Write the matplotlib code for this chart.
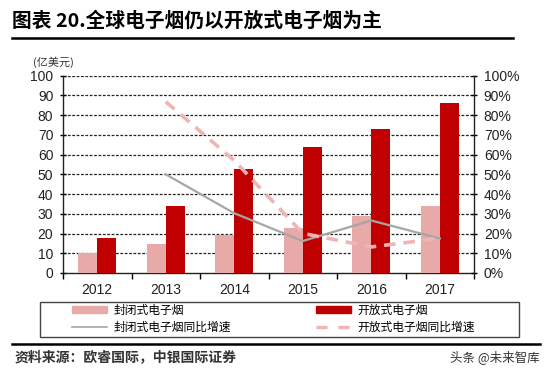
import matplotlib
matplotlib.use("Agg")
import matplotlib.pyplot as plt
import numpy as np
from matplotlib.patches import Rectangle
from matplotlib.lines import Line2D
from matplotlib.ticker import PercentFormatter

plt.rcParams['font.family'] = ['Liberation Sans', 'Noto Sans CJK SC', 'DejaVu Sans']

years = ['2012', '2013', '2014', '2015', '2016', '2017']
closed_sales = [10.2, 14.6, 19.5, 22.6, 28.9, 34.2]
open_sales = [17.8, 34.2, 52.8, 64.0, 73.0, 86.3]
closed_growth_years = ['2013', '2014', '2015', '2016', '2017']
closed_growth = [0.50, 0.303, 0.162, 0.266, 0.175]
open_growth_years = ['2013', '2014', '2015', '2016', '2017']
open_growth = [0.868, 0.57, 0.201, 0.132, 0.176]

label_closed = '封闭式电子烟'
label_open = '开放式电子烟'
label_closed_g = '封闭式电子烟同比增速'
label_open_g = '开放式电子烟同比增速'

C_OPEN = '#C00000'
C_CLOSED = '#E8A9A9'
C_GRAY = '#A6A6A6'
C_PINKLINE = '#F2B3B3'

fig = plt.figure(figsize=(5.54, 3.8), dpi=100)
ax = fig.add_axes([0.1137, 0.2816, 0.742, 0.5192])

x = np.arange(len(years))
w = 0.28
ax.bar(x - w, closed_sales, width=w, align='edge', color=C_CLOSED, zorder=3)
ax.bar(x, open_sales, width=w, align='edge', color=C_OPEN, zorder=3)

ax.set_xlim(-0.5, len(years) - 0.5)
ax.set_ylim(0, 100)
ax.set_yticks(np.arange(0, 101, 10))
ax.set_xticks(x)
ax.set_xticklabels(years, fontsize=10, color='#222222')
ax.set_xticks(np.arange(-0.5, len(years), 1.0), minor=True)
ax.tick_params(axis='x', which='major', length=0, pad=7)
ax.tick_params(axis='x', which='minor', length=4, width=1, direction='out')
ax.tick_params(axis='y', labelsize=10, length=4, width=1, direction='inout', pad=5, labelcolor='#222222')
for yv in np.arange(10, 101, 10):
    ax.axhline(yv, color='#222222', lw=0.9, ls=(0, (2.2, 1.3)), zorder=1)
ax.spines['top'].set_visible(False)
ax.spines['right'].set_visible(False)
for s in ['left', 'bottom']:
    ax.spines[s].set_linewidth(1.0)
    ax.spines[s].set_color('#222222')

ax2 = ax.twinx()
ax2.set_ylim(0, 1.0)
ax2.set_yticks(np.arange(0, 1.01, 0.1))
ax2.yaxis.set_major_formatter(PercentFormatter(1.0, decimals=0))
ax2.tick_params(axis='y', labelsize=10, length=4, width=1, direction='inout', pad=5, labelcolor='#222222')
for s in ['top', 'left', 'bottom']:
    ax2.spines[s].set_visible(False)
ax2.spines['right'].set_linewidth(1.0)
ax2.spines['right'].set_color('#222222')

xc = [years.index(y) for y in closed_growth_years]
xo = [years.index(y) for y in open_growth_years]
ax2.plot(xc, closed_growth, color=C_GRAY, lw=1.6, zorder=4)
ax2.plot(xo, open_growth, color=C_PINKLINE, lw=2.6, dashes=(3.2, 2.2), zorder=4)

# title
fig.text(0.022, 0.945, '图表 20.全球电子烟仍以开放式电子烟为主', fontsize=14.2, fontweight='bold',
         family=['Noto Sans CJK SC', 'DejaVu Sans'], va='center', ha='left')
fig.add_artist(Line2D([12/554, 513/554], [1-38/380, 1-38/380], color='black', lw=1.8))
fig.text(33/554, 1-62/380, '(亿美元)', fontsize=8, family=['Noto Sans CJK SC', 'DejaVu Sans'],
         va='center', ha='left', color='#333333')

# legend box
fig.add_artist(Rectangle((40/554, 1-337/380), 479/554, 35/380, transform=fig.transFigure,
                         fill=False, edgecolor='#444444', lw=1.0))
h_closed = Rectangle((0, 0), 1, 1, color=C_CLOSED)
h_open = Rectangle((0, 0), 1, 1, color=C_OPEN)
h_cg = Line2D([], [], color=C_GRAY, lw=1.2)
h_og = Line2D([], [], color=C_PINKLINE, lw=2.4, dashes=(3.3, 3.3))
lp = dict(frameon=False, borderpad=0, borderaxespad=0, handlelength=3.0,
          handleheight=0.5, handletextpad=0.5, labelspacing=0.35,
          prop={'family': ['Noto Sans CJK SC', 'DejaVu Sans'], 'size': 8.5})
l1 = fig.legend([h_closed, h_cg], [label_closed, label_closed_g], loc='upper left',
                bbox_to_anchor=(72/554, 1-304/380), **lp)
l2 = fig.legend([h_open, h_og], [label_open, label_open_g], loc='upper left',
                bbox_to_anchor=(316/554, 1-304/380), **lp)

fig.add_artist(Line2D([12/554, 540/554], [1-344/380, 1-344/380], color='black', lw=1.8))
fig.text(15/554, 1-357/380, '资料来源：欧睿国际，中银国际证券', fontsize=10, fontweight='bold', style='italic',
         family=['Noto Sans CJK SC', 'DejaVu Sans'], va='center', ha='left', color='#333333')
fig.text(540/554, 1-357/380, '头条 @未来智库', fontsize=9,
         family=['Noto Sans CJK SC', 'DejaVu Sans'], va='center', ha='right', color='#333333')

fig.savefig('out.png', dpi=100)
